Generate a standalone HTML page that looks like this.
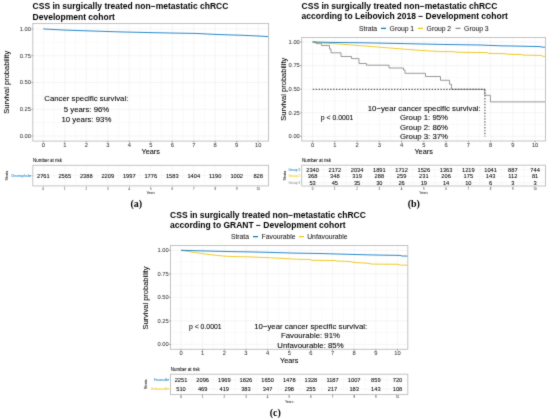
<!DOCTYPE html>
<html><head><meta charset="utf-8"><title>CSS chRCC</title>
<style>
html,body{margin:0;padding:0;background:#fff;}
body{width:550px;height:420px;overflow:hidden;font-family:"Liberation Sans",sans-serif;}
svg{display:block;}
#w{width:550px;height:420px;will-change:transform;}

</style></head><body><div id="w">
<svg width="550" height="420" viewBox="0 0 550 420">
<defs><filter id="bl" x="0" y="0" width="550" height="420" filterUnits="userSpaceOnUse" color-interpolation-filters="sRGB"><feConvolveMatrix order="3" kernelMatrix="0.02 0.08 0.02 0.08 0.6 0.08 0.02 0.08 0.02" divisor="1" edgeMode="duplicate"/></filter></defs>
<g filter="url(#bl)">
<rect x="0" y="0" width="550" height="420" fill="#fff"/>
<text x="32.60" y="9.30" font-size="8.5" text-anchor="start" font-weight="bold" fill="#000" font-family="Liberation Sans" >CSS in surgically treated non−metastatic chRCC</text>
<text x="32.60" y="19.60" font-size="8.5" text-anchor="start" font-weight="bold" fill="#000" font-family="Liberation Sans" >Development cohort</text>
<rect x="32.8" y="23.45" width="235.8" height="117.64999999999999" fill="#fff"/>
<line x1="54.04" y1="23.45" x2="54.04" y2="141.10" stroke="#f4f4f4" stroke-width="0.5" />
<line x1="75.53" y1="23.45" x2="75.53" y2="141.10" stroke="#f4f4f4" stroke-width="0.5" />
<line x1="97.02" y1="23.45" x2="97.02" y2="141.10" stroke="#f4f4f4" stroke-width="0.5" />
<line x1="118.51" y1="23.45" x2="118.51" y2="141.10" stroke="#f4f4f4" stroke-width="0.5" />
<line x1="140.00" y1="23.45" x2="140.00" y2="141.10" stroke="#f4f4f4" stroke-width="0.5" />
<line x1="161.50" y1="23.45" x2="161.50" y2="141.10" stroke="#f4f4f4" stroke-width="0.5" />
<line x1="182.99" y1="23.45" x2="182.99" y2="141.10" stroke="#f4f4f4" stroke-width="0.5" />
<line x1="204.47" y1="23.45" x2="204.47" y2="141.10" stroke="#f4f4f4" stroke-width="0.5" />
<line x1="225.96" y1="23.45" x2="225.96" y2="141.10" stroke="#f4f4f4" stroke-width="0.5" />
<line x1="247.45" y1="23.45" x2="247.45" y2="141.10" stroke="#f4f4f4" stroke-width="0.5" />
<line x1="32.80" y1="122.62" x2="268.60" y2="122.62" stroke="#f4f4f4" stroke-width="0.5" />
<line x1="32.80" y1="95.88" x2="268.60" y2="95.88" stroke="#f4f4f4" stroke-width="0.5" />
<line x1="32.80" y1="69.12" x2="268.60" y2="69.12" stroke="#f4f4f4" stroke-width="0.5" />
<line x1="32.80" y1="42.38" x2="268.60" y2="42.38" stroke="#f4f4f4" stroke-width="0.5" />
<line x1="43.30" y1="23.45" x2="43.30" y2="141.10" stroke="#eeeeee" stroke-width="0.6" />
<line x1="64.79" y1="23.45" x2="64.79" y2="141.10" stroke="#eeeeee" stroke-width="0.6" />
<line x1="86.28" y1="23.45" x2="86.28" y2="141.10" stroke="#eeeeee" stroke-width="0.6" />
<line x1="107.77" y1="23.45" x2="107.77" y2="141.10" stroke="#eeeeee" stroke-width="0.6" />
<line x1="129.26" y1="23.45" x2="129.26" y2="141.10" stroke="#eeeeee" stroke-width="0.6" />
<line x1="150.75" y1="23.45" x2="150.75" y2="141.10" stroke="#eeeeee" stroke-width="0.6" />
<line x1="172.24" y1="23.45" x2="172.24" y2="141.10" stroke="#eeeeee" stroke-width="0.6" />
<line x1="193.73" y1="23.45" x2="193.73" y2="141.10" stroke="#eeeeee" stroke-width="0.6" />
<line x1="215.22" y1="23.45" x2="215.22" y2="141.10" stroke="#eeeeee" stroke-width="0.6" />
<line x1="236.71" y1="23.45" x2="236.71" y2="141.10" stroke="#eeeeee" stroke-width="0.6" />
<line x1="258.20" y1="23.45" x2="258.20" y2="141.10" stroke="#eeeeee" stroke-width="0.6" />
<line x1="32.80" y1="136.00" x2="268.60" y2="136.00" stroke="#eeeeee" stroke-width="0.6" />
<line x1="32.80" y1="109.25" x2="268.60" y2="109.25" stroke="#eeeeee" stroke-width="0.6" />
<line x1="32.80" y1="82.50" x2="268.60" y2="82.50" stroke="#eeeeee" stroke-width="0.6" />
<line x1="32.80" y1="55.75" x2="268.60" y2="55.75" stroke="#eeeeee" stroke-width="0.6" />
<line x1="32.80" y1="29.00" x2="268.60" y2="29.00" stroke="#eeeeee" stroke-width="0.6" />
<path d="M43.30,28.90 L50.00,29.30 L65.00,30.10 L80.00,30.60 L95.00,31.10 L120.00,31.90 L150.00,32.60 L175.00,33.10 L195.00,33.40 L205.00,33.90 L215.00,34.40 L230.00,34.90 L245.00,35.40 L260.00,36.10 L268.60,36.70" fill="none" stroke="#0073C2" stroke-width="0.85" stroke-linejoin="miter" />
<text x="86.30" y="101.30" font-size="7.8" text-anchor="middle" font-weight="normal" fill="#000" font-family="Liberation Sans" stroke="#000" stroke-width="0.073" >Cancer specific survival:</text>
<text x="86.50" y="111.80" font-size="7.8" text-anchor="middle" font-weight="normal" fill="#000" font-family="Liberation Sans" stroke="#000" stroke-width="0.073" >5 years: 96%</text>
<text x="86.40" y="122.30" font-size="7.8" text-anchor="middle" font-weight="normal" fill="#000" font-family="Liberation Sans" stroke="#000" stroke-width="0.073" >10 years: 93%</text>
<rect x="32.8" y="23.45" width="235.8" height="117.64999999999999" fill="none" stroke="#bdbdbd" stroke-width="0.9"/>
<line x1="31.40" y1="136.00" x2="32.80" y2="136.00" stroke="#666666" stroke-width="0.6" />
<text x="30.90" y="137.90" font-size="5.75" text-anchor="end" font-weight="normal" fill="#383838" font-family="Liberation Sans" stroke="#383838" stroke-width="0.054" >0.00</text>
<line x1="31.40" y1="109.25" x2="32.80" y2="109.25" stroke="#666666" stroke-width="0.6" />
<text x="30.90" y="111.15" font-size="5.75" text-anchor="end" font-weight="normal" fill="#383838" font-family="Liberation Sans" stroke="#383838" stroke-width="0.054" >0.25</text>
<line x1="31.40" y1="82.50" x2="32.80" y2="82.50" stroke="#666666" stroke-width="0.6" />
<text x="30.90" y="84.40" font-size="5.75" text-anchor="end" font-weight="normal" fill="#383838" font-family="Liberation Sans" stroke="#383838" stroke-width="0.054" >0.50</text>
<line x1="31.40" y1="55.75" x2="32.80" y2="55.75" stroke="#666666" stroke-width="0.6" />
<text x="30.90" y="57.65" font-size="5.75" text-anchor="end" font-weight="normal" fill="#383838" font-family="Liberation Sans" stroke="#383838" stroke-width="0.054" >0.75</text>
<line x1="31.40" y1="29.00" x2="32.80" y2="29.00" stroke="#666666" stroke-width="0.6" />
<text x="30.90" y="30.90" font-size="5.75" text-anchor="end" font-weight="normal" fill="#383838" font-family="Liberation Sans" stroke="#383838" stroke-width="0.054" >1.00</text>
<line x1="43.30" y1="141.10" x2="43.30" y2="142.50" stroke="#666666" stroke-width="0.6" />
<text x="43.30" y="146.80" font-size="5.75" text-anchor="middle" font-weight="normal" fill="#383838" font-family="Liberation Sans" stroke="#383838" stroke-width="0.054" >0</text>
<line x1="64.79" y1="141.10" x2="64.79" y2="142.50" stroke="#666666" stroke-width="0.6" />
<text x="64.79" y="146.80" font-size="5.75" text-anchor="middle" font-weight="normal" fill="#383838" font-family="Liberation Sans" stroke="#383838" stroke-width="0.054" >1</text>
<line x1="86.28" y1="141.10" x2="86.28" y2="142.50" stroke="#666666" stroke-width="0.6" />
<text x="86.28" y="146.80" font-size="5.75" text-anchor="middle" font-weight="normal" fill="#383838" font-family="Liberation Sans" stroke="#383838" stroke-width="0.054" >2</text>
<line x1="107.77" y1="141.10" x2="107.77" y2="142.50" stroke="#666666" stroke-width="0.6" />
<text x="107.77" y="146.80" font-size="5.75" text-anchor="middle" font-weight="normal" fill="#383838" font-family="Liberation Sans" stroke="#383838" stroke-width="0.054" >3</text>
<line x1="129.26" y1="141.10" x2="129.26" y2="142.50" stroke="#666666" stroke-width="0.6" />
<text x="129.26" y="146.80" font-size="5.75" text-anchor="middle" font-weight="normal" fill="#383838" font-family="Liberation Sans" stroke="#383838" stroke-width="0.054" >4</text>
<line x1="150.75" y1="141.10" x2="150.75" y2="142.50" stroke="#666666" stroke-width="0.6" />
<text x="150.75" y="146.80" font-size="5.75" text-anchor="middle" font-weight="normal" fill="#383838" font-family="Liberation Sans" stroke="#383838" stroke-width="0.054" >5</text>
<line x1="172.24" y1="141.10" x2="172.24" y2="142.50" stroke="#666666" stroke-width="0.6" />
<text x="172.24" y="146.80" font-size="5.75" text-anchor="middle" font-weight="normal" fill="#383838" font-family="Liberation Sans" stroke="#383838" stroke-width="0.054" >6</text>
<line x1="193.73" y1="141.10" x2="193.73" y2="142.50" stroke="#666666" stroke-width="0.6" />
<text x="193.73" y="146.80" font-size="5.75" text-anchor="middle" font-weight="normal" fill="#383838" font-family="Liberation Sans" stroke="#383838" stroke-width="0.054" >7</text>
<line x1="215.22" y1="141.10" x2="215.22" y2="142.50" stroke="#666666" stroke-width="0.6" />
<text x="215.22" y="146.80" font-size="5.75" text-anchor="middle" font-weight="normal" fill="#383838" font-family="Liberation Sans" stroke="#383838" stroke-width="0.054" >8</text>
<line x1="236.71" y1="141.10" x2="236.71" y2="142.50" stroke="#666666" stroke-width="0.6" />
<text x="236.71" y="146.80" font-size="5.75" text-anchor="middle" font-weight="normal" fill="#383838" font-family="Liberation Sans" stroke="#383838" stroke-width="0.054" >9</text>
<line x1="258.20" y1="141.10" x2="258.20" y2="142.50" stroke="#666666" stroke-width="0.6" />
<text x="258.20" y="146.80" font-size="5.75" text-anchor="middle" font-weight="normal" fill="#383838" font-family="Liberation Sans" stroke="#383838" stroke-width="0.054" >10</text>
<text x="150.70" y="154.30" font-size="7.3" text-anchor="middle" font-weight="normal" fill="#000" font-family="Liberation Sans" stroke="#000" stroke-width="0.068" >Years</text>
<text x="0.00" y="0.00" font-size="7.5" text-anchor="middle" font-weight="normal" fill="#000" font-family="Liberation Sans" stroke="#000" stroke-width="0.070" transform="translate(9.00,82.27) rotate(-90)">Survival probability</text>
<text x="33.10" y="162.40" font-size="4.45" text-anchor="start" font-weight="normal" fill="#000" font-family="Liberation Sans" stroke="#000" stroke-width="0.042" >Number at risk</text>
<rect x="32.8" y="165.3" width="235.8" height="20.599999999999994" fill="#fff"/>
<line x1="43.30" y1="165.30" x2="43.30" y2="185.90" stroke="#eeeeee" stroke-width="0.5" />
<line x1="54.04" y1="165.30" x2="54.04" y2="185.90" stroke="#f4f4f4" stroke-width="0.5" />
<line x1="64.79" y1="165.30" x2="64.79" y2="185.90" stroke="#eeeeee" stroke-width="0.5" />
<line x1="75.53" y1="165.30" x2="75.53" y2="185.90" stroke="#f4f4f4" stroke-width="0.5" />
<line x1="86.28" y1="165.30" x2="86.28" y2="185.90" stroke="#eeeeee" stroke-width="0.5" />
<line x1="97.02" y1="165.30" x2="97.02" y2="185.90" stroke="#f4f4f4" stroke-width="0.5" />
<line x1="107.77" y1="165.30" x2="107.77" y2="185.90" stroke="#eeeeee" stroke-width="0.5" />
<line x1="118.51" y1="165.30" x2="118.51" y2="185.90" stroke="#f4f4f4" stroke-width="0.5" />
<line x1="129.26" y1="165.30" x2="129.26" y2="185.90" stroke="#eeeeee" stroke-width="0.5" />
<line x1="140.00" y1="165.30" x2="140.00" y2="185.90" stroke="#f4f4f4" stroke-width="0.5" />
<line x1="150.75" y1="165.30" x2="150.75" y2="185.90" stroke="#eeeeee" stroke-width="0.5" />
<line x1="161.50" y1="165.30" x2="161.50" y2="185.90" stroke="#f4f4f4" stroke-width="0.5" />
<line x1="172.24" y1="165.30" x2="172.24" y2="185.90" stroke="#eeeeee" stroke-width="0.5" />
<line x1="182.99" y1="165.30" x2="182.99" y2="185.90" stroke="#f4f4f4" stroke-width="0.5" />
<line x1="193.73" y1="165.30" x2="193.73" y2="185.90" stroke="#eeeeee" stroke-width="0.5" />
<line x1="204.47" y1="165.30" x2="204.47" y2="185.90" stroke="#f4f4f4" stroke-width="0.5" />
<line x1="215.22" y1="165.30" x2="215.22" y2="185.90" stroke="#eeeeee" stroke-width="0.5" />
<line x1="225.96" y1="165.30" x2="225.96" y2="185.90" stroke="#f4f4f4" stroke-width="0.5" />
<line x1="236.71" y1="165.30" x2="236.71" y2="185.90" stroke="#eeeeee" stroke-width="0.5" />
<line x1="247.45" y1="165.30" x2="247.45" y2="185.90" stroke="#f4f4f4" stroke-width="0.5" />
<line x1="258.20" y1="165.30" x2="258.20" y2="185.90" stroke="#eeeeee" stroke-width="0.5" />
<line x1="32.80" y1="175.60" x2="268.60" y2="175.60" stroke="#eeeeee" stroke-width="0.5" />
<text x="43.30" y="177.55" font-size="5.7" text-anchor="middle" font-weight="normal" fill="#000" font-family="Liberation Sans" stroke="#000" stroke-width="0.053" >2761</text>
<text x="64.79" y="177.55" font-size="5.7" text-anchor="middle" font-weight="normal" fill="#000" font-family="Liberation Sans" stroke="#000" stroke-width="0.053" >2565</text>
<text x="86.28" y="177.55" font-size="5.7" text-anchor="middle" font-weight="normal" fill="#000" font-family="Liberation Sans" stroke="#000" stroke-width="0.053" >2388</text>
<text x="107.77" y="177.55" font-size="5.7" text-anchor="middle" font-weight="normal" fill="#000" font-family="Liberation Sans" stroke="#000" stroke-width="0.053" >2209</text>
<text x="129.26" y="177.55" font-size="5.7" text-anchor="middle" font-weight="normal" fill="#000" font-family="Liberation Sans" stroke="#000" stroke-width="0.053" >1997</text>
<text x="150.75" y="177.55" font-size="5.7" text-anchor="middle" font-weight="normal" fill="#000" font-family="Liberation Sans" stroke="#000" stroke-width="0.053" >1776</text>
<text x="172.24" y="177.55" font-size="5.7" text-anchor="middle" font-weight="normal" fill="#000" font-family="Liberation Sans" stroke="#000" stroke-width="0.053" >1583</text>
<text x="193.73" y="177.55" font-size="5.7" text-anchor="middle" font-weight="normal" fill="#000" font-family="Liberation Sans" stroke="#000" stroke-width="0.053" >1404</text>
<text x="215.22" y="177.55" font-size="5.7" text-anchor="middle" font-weight="normal" fill="#000" font-family="Liberation Sans" stroke="#000" stroke-width="0.053" >1190</text>
<text x="236.71" y="177.55" font-size="5.7" text-anchor="middle" font-weight="normal" fill="#000" font-family="Liberation Sans" stroke="#000" stroke-width="0.053" >1002</text>
<text x="258.20" y="177.55" font-size="5.7" text-anchor="middle" font-weight="normal" fill="#000" font-family="Liberation Sans" stroke="#000" stroke-width="0.053" >828</text>
<line x1="31.80" y1="175.60" x2="32.80" y2="175.60" stroke="#bdbdbd" stroke-width="0.5" />
<text x="31.20" y="176.70" font-size="3.2" text-anchor="end" font-weight="normal" fill="#0073C2" font-family="Liberation Sans" stroke="#0073C2" stroke-width="0.030" >Chromophobe</text>
<rect x="32.8" y="165.3" width="235.8" height="20.599999999999994" fill="none" stroke="#bdbdbd" stroke-width="0.9"/>
<line x1="43.30" y1="185.90" x2="43.30" y2="186.90" stroke="#bdbdbd" stroke-width="0.5" />
<text x="43.30" y="189.70" font-size="2.9" text-anchor="middle" font-weight="normal" fill="#444" font-family="Liberation Sans" stroke="#444" stroke-width="0.027" >0</text>
<line x1="64.79" y1="185.90" x2="64.79" y2="186.90" stroke="#bdbdbd" stroke-width="0.5" />
<text x="64.79" y="189.70" font-size="2.9" text-anchor="middle" font-weight="normal" fill="#444" font-family="Liberation Sans" stroke="#444" stroke-width="0.027" >1</text>
<line x1="86.28" y1="185.90" x2="86.28" y2="186.90" stroke="#bdbdbd" stroke-width="0.5" />
<text x="86.28" y="189.70" font-size="2.9" text-anchor="middle" font-weight="normal" fill="#444" font-family="Liberation Sans" stroke="#444" stroke-width="0.027" >2</text>
<line x1="107.77" y1="185.90" x2="107.77" y2="186.90" stroke="#bdbdbd" stroke-width="0.5" />
<text x="107.77" y="189.70" font-size="2.9" text-anchor="middle" font-weight="normal" fill="#444" font-family="Liberation Sans" stroke="#444" stroke-width="0.027" >3</text>
<line x1="129.26" y1="185.90" x2="129.26" y2="186.90" stroke="#bdbdbd" stroke-width="0.5" />
<text x="129.26" y="189.70" font-size="2.9" text-anchor="middle" font-weight="normal" fill="#444" font-family="Liberation Sans" stroke="#444" stroke-width="0.027" >4</text>
<line x1="150.75" y1="185.90" x2="150.75" y2="186.90" stroke="#bdbdbd" stroke-width="0.5" />
<text x="150.75" y="189.70" font-size="2.9" text-anchor="middle" font-weight="normal" fill="#444" font-family="Liberation Sans" stroke="#444" stroke-width="0.027" >5</text>
<line x1="172.24" y1="185.90" x2="172.24" y2="186.90" stroke="#bdbdbd" stroke-width="0.5" />
<text x="172.24" y="189.70" font-size="2.9" text-anchor="middle" font-weight="normal" fill="#444" font-family="Liberation Sans" stroke="#444" stroke-width="0.027" >6</text>
<line x1="193.73" y1="185.90" x2="193.73" y2="186.90" stroke="#bdbdbd" stroke-width="0.5" />
<text x="193.73" y="189.70" font-size="2.9" text-anchor="middle" font-weight="normal" fill="#444" font-family="Liberation Sans" stroke="#444" stroke-width="0.027" >7</text>
<line x1="215.22" y1="185.90" x2="215.22" y2="186.90" stroke="#bdbdbd" stroke-width="0.5" />
<text x="215.22" y="189.70" font-size="2.9" text-anchor="middle" font-weight="normal" fill="#444" font-family="Liberation Sans" stroke="#444" stroke-width="0.027" >8</text>
<line x1="236.71" y1="185.90" x2="236.71" y2="186.90" stroke="#bdbdbd" stroke-width="0.5" />
<text x="236.71" y="189.70" font-size="2.9" text-anchor="middle" font-weight="normal" fill="#444" font-family="Liberation Sans" stroke="#444" stroke-width="0.027" >9</text>
<line x1="258.20" y1="185.90" x2="258.20" y2="186.90" stroke="#bdbdbd" stroke-width="0.5" />
<text x="258.20" y="189.70" font-size="2.9" text-anchor="middle" font-weight="normal" fill="#444" font-family="Liberation Sans" stroke="#444" stroke-width="0.027" >10</text>
<text x="150.70" y="193.80" font-size="3.4" text-anchor="middle" font-weight="normal" fill="#333" font-family="Liberation Sans" stroke="#333" stroke-width="0.032" >Years</text>
<text x="0.00" y="0.00" font-size="3.7" text-anchor="middle" font-weight="normal" fill="#000" font-family="Liberation Sans" stroke="#000" stroke-width="0.035" transform="translate(8.00,175.60) rotate(-90)">Strata</text>
<text x="136.30" y="206.70" font-size="10" text-anchor="middle" font-weight="bold" fill="#000" font-family="Liberation Serif" >(a)</text>
<text x="301.60" y="9.30" font-size="8.5" text-anchor="start" font-weight="bold" fill="#000" font-family="Liberation Sans" >CSS in surgically treated non−metastatic chRCC</text>
<text x="301.60" y="19.40" font-size="8.5" text-anchor="start" font-weight="bold" fill="#000" font-family="Liberation Sans" >according to Leibovich 2018 − Development cohort</text>
<text x="359.00" y="30.80" font-size="6.8" text-anchor="start" font-weight="normal" fill="#222" font-family="Liberation Sans" stroke="#222" stroke-width="0.063" >Strata</text>
<line x1="381.00" y1="28.35" x2="386.00" y2="28.35" stroke="#0073C2" stroke-width="1.2" />
<text x="389.60" y="30.80" font-size="6.8" text-anchor="start" font-weight="normal" fill="#222" font-family="Liberation Sans" stroke="#222" stroke-width="0.063" >Group 1</text>
<line x1="418.00" y1="28.35" x2="423.00" y2="28.35" stroke="#EFC000" stroke-width="1.2" />
<text x="426.60" y="30.80" font-size="6.8" text-anchor="start" font-weight="normal" fill="#222" font-family="Liberation Sans" stroke="#222" stroke-width="0.063" >Group 2</text>
<line x1="455.50" y1="28.35" x2="460.50" y2="28.35" stroke="#868686" stroke-width="1.2" />
<text x="464.10" y="30.80" font-size="6.8" text-anchor="start" font-weight="normal" fill="#222" font-family="Liberation Sans" stroke="#222" stroke-width="0.063" >Group 3</text>
<rect x="301.7" y="37.5" width="243.8" height="103.5" fill="#fff"/>
<line x1="323.73" y1="37.50" x2="323.73" y2="141.00" stroke="#f4f4f4" stroke-width="0.5" />
<line x1="345.98" y1="37.50" x2="345.98" y2="141.00" stroke="#f4f4f4" stroke-width="0.5" />
<line x1="368.23" y1="37.50" x2="368.23" y2="141.00" stroke="#f4f4f4" stroke-width="0.5" />
<line x1="390.48" y1="37.50" x2="390.48" y2="141.00" stroke="#f4f4f4" stroke-width="0.5" />
<line x1="412.73" y1="37.50" x2="412.73" y2="141.00" stroke="#f4f4f4" stroke-width="0.5" />
<line x1="434.98" y1="37.50" x2="434.98" y2="141.00" stroke="#f4f4f4" stroke-width="0.5" />
<line x1="457.23" y1="37.50" x2="457.23" y2="141.00" stroke="#f4f4f4" stroke-width="0.5" />
<line x1="479.48" y1="37.50" x2="479.48" y2="141.00" stroke="#f4f4f4" stroke-width="0.5" />
<line x1="501.73" y1="37.50" x2="501.73" y2="141.00" stroke="#f4f4f4" stroke-width="0.5" />
<line x1="523.98" y1="37.50" x2="523.98" y2="141.00" stroke="#f4f4f4" stroke-width="0.5" />
<line x1="301.70" y1="124.51" x2="545.50" y2="124.51" stroke="#f4f4f4" stroke-width="0.5" />
<line x1="301.70" y1="100.94" x2="545.50" y2="100.94" stroke="#f4f4f4" stroke-width="0.5" />
<line x1="301.70" y1="77.36" x2="545.50" y2="77.36" stroke="#f4f4f4" stroke-width="0.5" />
<line x1="301.70" y1="53.79" x2="545.50" y2="53.79" stroke="#f4f4f4" stroke-width="0.5" />
<line x1="312.60" y1="37.50" x2="312.60" y2="141.00" stroke="#eeeeee" stroke-width="0.6" />
<line x1="334.85" y1="37.50" x2="334.85" y2="141.00" stroke="#eeeeee" stroke-width="0.6" />
<line x1="357.10" y1="37.50" x2="357.10" y2="141.00" stroke="#eeeeee" stroke-width="0.6" />
<line x1="379.35" y1="37.50" x2="379.35" y2="141.00" stroke="#eeeeee" stroke-width="0.6" />
<line x1="401.60" y1="37.50" x2="401.60" y2="141.00" stroke="#eeeeee" stroke-width="0.6" />
<line x1="423.85" y1="37.50" x2="423.85" y2="141.00" stroke="#eeeeee" stroke-width="0.6" />
<line x1="446.10" y1="37.50" x2="446.10" y2="141.00" stroke="#eeeeee" stroke-width="0.6" />
<line x1="468.35" y1="37.50" x2="468.35" y2="141.00" stroke="#eeeeee" stroke-width="0.6" />
<line x1="490.60" y1="37.50" x2="490.60" y2="141.00" stroke="#eeeeee" stroke-width="0.6" />
<line x1="512.85" y1="37.50" x2="512.85" y2="141.00" stroke="#eeeeee" stroke-width="0.6" />
<line x1="535.10" y1="37.50" x2="535.10" y2="141.00" stroke="#eeeeee" stroke-width="0.6" />
<line x1="301.70" y1="136.30" x2="545.50" y2="136.30" stroke="#eeeeee" stroke-width="0.6" />
<line x1="301.70" y1="112.73" x2="545.50" y2="112.73" stroke="#eeeeee" stroke-width="0.6" />
<line x1="301.70" y1="89.15" x2="545.50" y2="89.15" stroke="#eeeeee" stroke-width="0.6" />
<line x1="301.70" y1="65.58" x2="545.50" y2="65.58" stroke="#eeeeee" stroke-width="0.6" />
<line x1="301.70" y1="42.00" x2="545.50" y2="42.00" stroke="#eeeeee" stroke-width="0.6" />
<path d="M312.60,42.00 L316.00,42.00 L316.00,43.60 L321.50,43.60 L321.50,45.50 L329.50,45.50 L329.50,49.00 L331.00,49.00 L331.00,52.80 L341.00,52.80 L341.00,56.50 L351.50,56.50 L351.50,58.60 L359.00,58.60 L359.00,63.50 L366.50,63.50 L366.50,65.20 L389.00,65.20 L389.00,68.00 L403.50,68.00 L403.50,70.00 L405.00,70.00 L405.00,73.30 L425.50,73.30 L425.50,76.50 L440.50,76.50 L440.50,80.30 L449.50,80.30 L449.50,84.30 L451.50,84.30 L451.50,89.30 L484.80,89.30 L484.80,95.30 L490.40,95.30 L490.40,101.90 L545.50,101.90" fill="none" stroke="#868686" stroke-width="0.85" stroke-linejoin="miter" />
<path d="M312.60,42.00 L320.00,43.00 L335.00,43.70 L345.00,44.50 L370.00,46.40 L390.00,48.00 L410.00,49.60 L430.00,51.00 L440.00,51.50 L454.00,51.70 L456.00,52.20 L487.00,52.60 L489.00,53.40 L506.00,53.70 L508.00,54.30 L521.00,54.50 L523.00,55.10 L541.00,55.50 L543.00,56.30 L545.50,56.40" fill="none" stroke="#EFC000" stroke-width="0.85" stroke-linejoin="miter" />
<path d="M312.60,42.00 L330.00,42.40 L363.00,42.80 L400.00,43.50 L440.00,44.40 L480.00,45.00 L500.00,45.80 L520.00,46.20 L540.00,46.60 L542.00,47.10 L545.50,47.20" fill="none" stroke="#0073C2" stroke-width="0.85" stroke-linejoin="miter" />
<line x1="312.80" y1="89.35" x2="484.90" y2="89.35" stroke="#555" stroke-width="1.1" stroke-dasharray="1.4 1.5"/>
<line x1="484.90" y1="89.35" x2="484.90" y2="136.40" stroke="#555" stroke-width="1.1" stroke-dasharray="1.4 1.5"/>
<text x="337.10" y="120.10" font-size="6.85" text-anchor="middle" font-weight="normal" fill="#000" font-family="Liberation Sans" stroke="#000" stroke-width="0.064" >p &lt; 0.0001</text>
<text x="424.20" y="111.00" font-size="7.8" text-anchor="middle" font-weight="normal" fill="#000" font-family="Liberation Sans" stroke="#000" stroke-width="0.073" >10−year cancer specific survival:</text>
<text x="424.00" y="120.30" font-size="7.8" text-anchor="middle" font-weight="normal" fill="#000" font-family="Liberation Sans" stroke="#000" stroke-width="0.073" >Group 1: 95%</text>
<text x="424.00" y="129.60" font-size="7.8" text-anchor="middle" font-weight="normal" fill="#000" font-family="Liberation Sans" stroke="#000" stroke-width="0.073" >Group 2: 86%</text>
<text x="424.00" y="138.90" font-size="7.8" text-anchor="middle" font-weight="normal" fill="#000" font-family="Liberation Sans" stroke="#000" stroke-width="0.073" >Group 3: 37%</text>
<rect x="301.7" y="37.5" width="243.8" height="103.5" fill="none" stroke="#bdbdbd" stroke-width="0.9"/>
<line x1="300.30" y1="136.30" x2="301.70" y2="136.30" stroke="#666666" stroke-width="0.6" />
<text x="299.80" y="138.20" font-size="5.75" text-anchor="end" font-weight="normal" fill="#383838" font-family="Liberation Sans" stroke="#383838" stroke-width="0.054" >0.00</text>
<line x1="300.30" y1="112.73" x2="301.70" y2="112.73" stroke="#666666" stroke-width="0.6" />
<text x="299.80" y="114.63" font-size="5.75" text-anchor="end" font-weight="normal" fill="#383838" font-family="Liberation Sans" stroke="#383838" stroke-width="0.054" >0.25</text>
<line x1="300.30" y1="89.15" x2="301.70" y2="89.15" stroke="#666666" stroke-width="0.6" />
<text x="299.80" y="91.05" font-size="5.75" text-anchor="end" font-weight="normal" fill="#383838" font-family="Liberation Sans" stroke="#383838" stroke-width="0.054" >0.50</text>
<line x1="300.30" y1="65.58" x2="301.70" y2="65.58" stroke="#666666" stroke-width="0.6" />
<text x="299.80" y="67.48" font-size="5.75" text-anchor="end" font-weight="normal" fill="#383838" font-family="Liberation Sans" stroke="#383838" stroke-width="0.054" >0.75</text>
<line x1="300.30" y1="42.00" x2="301.70" y2="42.00" stroke="#666666" stroke-width="0.6" />
<text x="299.80" y="43.90" font-size="5.75" text-anchor="end" font-weight="normal" fill="#383838" font-family="Liberation Sans" stroke="#383838" stroke-width="0.054" >1.00</text>
<line x1="312.60" y1="141.00" x2="312.60" y2="142.40" stroke="#666666" stroke-width="0.6" />
<text x="312.60" y="146.70" font-size="5.75" text-anchor="middle" font-weight="normal" fill="#383838" font-family="Liberation Sans" stroke="#383838" stroke-width="0.054" >0</text>
<line x1="334.85" y1="141.00" x2="334.85" y2="142.40" stroke="#666666" stroke-width="0.6" />
<text x="334.85" y="146.70" font-size="5.75" text-anchor="middle" font-weight="normal" fill="#383838" font-family="Liberation Sans" stroke="#383838" stroke-width="0.054" >1</text>
<line x1="357.10" y1="141.00" x2="357.10" y2="142.40" stroke="#666666" stroke-width="0.6" />
<text x="357.10" y="146.70" font-size="5.75" text-anchor="middle" font-weight="normal" fill="#383838" font-family="Liberation Sans" stroke="#383838" stroke-width="0.054" >2</text>
<line x1="379.35" y1="141.00" x2="379.35" y2="142.40" stroke="#666666" stroke-width="0.6" />
<text x="379.35" y="146.70" font-size="5.75" text-anchor="middle" font-weight="normal" fill="#383838" font-family="Liberation Sans" stroke="#383838" stroke-width="0.054" >3</text>
<line x1="401.60" y1="141.00" x2="401.60" y2="142.40" stroke="#666666" stroke-width="0.6" />
<text x="401.60" y="146.70" font-size="5.75" text-anchor="middle" font-weight="normal" fill="#383838" font-family="Liberation Sans" stroke="#383838" stroke-width="0.054" >4</text>
<line x1="423.85" y1="141.00" x2="423.85" y2="142.40" stroke="#666666" stroke-width="0.6" />
<text x="423.85" y="146.70" font-size="5.75" text-anchor="middle" font-weight="normal" fill="#383838" font-family="Liberation Sans" stroke="#383838" stroke-width="0.054" >5</text>
<line x1="446.10" y1="141.00" x2="446.10" y2="142.40" stroke="#666666" stroke-width="0.6" />
<text x="446.10" y="146.70" font-size="5.75" text-anchor="middle" font-weight="normal" fill="#383838" font-family="Liberation Sans" stroke="#383838" stroke-width="0.054" >6</text>
<line x1="468.35" y1="141.00" x2="468.35" y2="142.40" stroke="#666666" stroke-width="0.6" />
<text x="468.35" y="146.70" font-size="5.75" text-anchor="middle" font-weight="normal" fill="#383838" font-family="Liberation Sans" stroke="#383838" stroke-width="0.054" >7</text>
<line x1="490.60" y1="141.00" x2="490.60" y2="142.40" stroke="#666666" stroke-width="0.6" />
<text x="490.60" y="146.70" font-size="5.75" text-anchor="middle" font-weight="normal" fill="#383838" font-family="Liberation Sans" stroke="#383838" stroke-width="0.054" >8</text>
<line x1="512.85" y1="141.00" x2="512.85" y2="142.40" stroke="#666666" stroke-width="0.6" />
<text x="512.85" y="146.70" font-size="5.75" text-anchor="middle" font-weight="normal" fill="#383838" font-family="Liberation Sans" stroke="#383838" stroke-width="0.054" >9</text>
<line x1="535.10" y1="141.00" x2="535.10" y2="142.40" stroke="#666666" stroke-width="0.6" />
<text x="535.10" y="146.70" font-size="5.75" text-anchor="middle" font-weight="normal" fill="#383838" font-family="Liberation Sans" stroke="#383838" stroke-width="0.054" >10</text>
<text x="423.60" y="154.30" font-size="7.3" text-anchor="middle" font-weight="normal" fill="#000" font-family="Liberation Sans" stroke="#000" stroke-width="0.068" >Years</text>
<text x="0.00" y="0.00" font-size="7.5" text-anchor="middle" font-weight="normal" fill="#000" font-family="Liberation Sans" stroke="#000" stroke-width="0.070" transform="translate(286.20,89.25) rotate(-90)">Survival probability</text>
<text x="302.00" y="162.30" font-size="4.45" text-anchor="start" font-weight="normal" fill="#000" font-family="Liberation Sans" stroke="#000" stroke-width="0.042" >Number at risk</text>
<rect x="301.7" y="165.2" width="243.8" height="20.80000000000001" fill="#fff"/>
<line x1="312.60" y1="165.20" x2="312.60" y2="186.00" stroke="#eeeeee" stroke-width="0.5" />
<line x1="323.73" y1="165.20" x2="323.73" y2="186.00" stroke="#f4f4f4" stroke-width="0.5" />
<line x1="334.85" y1="165.20" x2="334.85" y2="186.00" stroke="#eeeeee" stroke-width="0.5" />
<line x1="345.98" y1="165.20" x2="345.98" y2="186.00" stroke="#f4f4f4" stroke-width="0.5" />
<line x1="357.10" y1="165.20" x2="357.10" y2="186.00" stroke="#eeeeee" stroke-width="0.5" />
<line x1="368.23" y1="165.20" x2="368.23" y2="186.00" stroke="#f4f4f4" stroke-width="0.5" />
<line x1="379.35" y1="165.20" x2="379.35" y2="186.00" stroke="#eeeeee" stroke-width="0.5" />
<line x1="390.48" y1="165.20" x2="390.48" y2="186.00" stroke="#f4f4f4" stroke-width="0.5" />
<line x1="401.60" y1="165.20" x2="401.60" y2="186.00" stroke="#eeeeee" stroke-width="0.5" />
<line x1="412.73" y1="165.20" x2="412.73" y2="186.00" stroke="#f4f4f4" stroke-width="0.5" />
<line x1="423.85" y1="165.20" x2="423.85" y2="186.00" stroke="#eeeeee" stroke-width="0.5" />
<line x1="434.98" y1="165.20" x2="434.98" y2="186.00" stroke="#f4f4f4" stroke-width="0.5" />
<line x1="446.10" y1="165.20" x2="446.10" y2="186.00" stroke="#eeeeee" stroke-width="0.5" />
<line x1="457.23" y1="165.20" x2="457.23" y2="186.00" stroke="#f4f4f4" stroke-width="0.5" />
<line x1="468.35" y1="165.20" x2="468.35" y2="186.00" stroke="#eeeeee" stroke-width="0.5" />
<line x1="479.48" y1="165.20" x2="479.48" y2="186.00" stroke="#f4f4f4" stroke-width="0.5" />
<line x1="490.60" y1="165.20" x2="490.60" y2="186.00" stroke="#eeeeee" stroke-width="0.5" />
<line x1="501.73" y1="165.20" x2="501.73" y2="186.00" stroke="#f4f4f4" stroke-width="0.5" />
<line x1="512.85" y1="165.20" x2="512.85" y2="186.00" stroke="#eeeeee" stroke-width="0.5" />
<line x1="523.98" y1="165.20" x2="523.98" y2="186.00" stroke="#f4f4f4" stroke-width="0.5" />
<line x1="535.10" y1="165.20" x2="535.10" y2="186.00" stroke="#eeeeee" stroke-width="0.5" />
<line x1="301.70" y1="169.80" x2="545.50" y2="169.80" stroke="#eeeeee" stroke-width="0.5" />
<line x1="301.70" y1="176.30" x2="545.50" y2="176.30" stroke="#eeeeee" stroke-width="0.5" />
<line x1="301.70" y1="182.80" x2="545.50" y2="182.80" stroke="#eeeeee" stroke-width="0.5" />
<text x="312.60" y="171.75" font-size="5.7" text-anchor="middle" font-weight="normal" fill="#000" font-family="Liberation Sans" stroke="#000" stroke-width="0.053" >2340</text>
<text x="334.85" y="171.75" font-size="5.7" text-anchor="middle" font-weight="normal" fill="#000" font-family="Liberation Sans" stroke="#000" stroke-width="0.053" >2172</text>
<text x="357.10" y="171.75" font-size="5.7" text-anchor="middle" font-weight="normal" fill="#000" font-family="Liberation Sans" stroke="#000" stroke-width="0.053" >2034</text>
<text x="379.35" y="171.75" font-size="5.7" text-anchor="middle" font-weight="normal" fill="#000" font-family="Liberation Sans" stroke="#000" stroke-width="0.053" >1891</text>
<text x="401.60" y="171.75" font-size="5.7" text-anchor="middle" font-weight="normal" fill="#000" font-family="Liberation Sans" stroke="#000" stroke-width="0.053" >1712</text>
<text x="423.85" y="171.75" font-size="5.7" text-anchor="middle" font-weight="normal" fill="#000" font-family="Liberation Sans" stroke="#000" stroke-width="0.053" >1526</text>
<text x="446.10" y="171.75" font-size="5.7" text-anchor="middle" font-weight="normal" fill="#000" font-family="Liberation Sans" stroke="#000" stroke-width="0.053" >1363</text>
<text x="468.35" y="171.75" font-size="5.7" text-anchor="middle" font-weight="normal" fill="#000" font-family="Liberation Sans" stroke="#000" stroke-width="0.053" >1219</text>
<text x="490.60" y="171.75" font-size="5.7" text-anchor="middle" font-weight="normal" fill="#000" font-family="Liberation Sans" stroke="#000" stroke-width="0.053" >1041</text>
<text x="512.85" y="171.75" font-size="5.7" text-anchor="middle" font-weight="normal" fill="#000" font-family="Liberation Sans" stroke="#000" stroke-width="0.053" >887</text>
<text x="535.10" y="171.75" font-size="5.7" text-anchor="middle" font-weight="normal" fill="#000" font-family="Liberation Sans" stroke="#000" stroke-width="0.053" >744</text>
<line x1="300.70" y1="169.80" x2="301.70" y2="169.80" stroke="#bdbdbd" stroke-width="0.5" />
<text x="300.10" y="170.90" font-size="3.2" text-anchor="end" font-weight="normal" fill="#0073C2" font-family="Liberation Sans" stroke="#0073C2" stroke-width="0.030" >Group 1</text>
<text x="312.60" y="178.25" font-size="5.7" text-anchor="middle" font-weight="normal" fill="#000" font-family="Liberation Sans" stroke="#000" stroke-width="0.053" >368</text>
<text x="334.85" y="178.25" font-size="5.7" text-anchor="middle" font-weight="normal" fill="#000" font-family="Liberation Sans" stroke="#000" stroke-width="0.053" >348</text>
<text x="357.10" y="178.25" font-size="5.7" text-anchor="middle" font-weight="normal" fill="#000" font-family="Liberation Sans" stroke="#000" stroke-width="0.053" >319</text>
<text x="379.35" y="178.25" font-size="5.7" text-anchor="middle" font-weight="normal" fill="#000" font-family="Liberation Sans" stroke="#000" stroke-width="0.053" >288</text>
<text x="401.60" y="178.25" font-size="5.7" text-anchor="middle" font-weight="normal" fill="#000" font-family="Liberation Sans" stroke="#000" stroke-width="0.053" >259</text>
<text x="423.85" y="178.25" font-size="5.7" text-anchor="middle" font-weight="normal" fill="#000" font-family="Liberation Sans" stroke="#000" stroke-width="0.053" >231</text>
<text x="446.10" y="178.25" font-size="5.7" text-anchor="middle" font-weight="normal" fill="#000" font-family="Liberation Sans" stroke="#000" stroke-width="0.053" >206</text>
<text x="468.35" y="178.25" font-size="5.7" text-anchor="middle" font-weight="normal" fill="#000" font-family="Liberation Sans" stroke="#000" stroke-width="0.053" >175</text>
<text x="490.60" y="178.25" font-size="5.7" text-anchor="middle" font-weight="normal" fill="#000" font-family="Liberation Sans" stroke="#000" stroke-width="0.053" >143</text>
<text x="512.85" y="178.25" font-size="5.7" text-anchor="middle" font-weight="normal" fill="#000" font-family="Liberation Sans" stroke="#000" stroke-width="0.053" >112</text>
<text x="535.10" y="178.25" font-size="5.7" text-anchor="middle" font-weight="normal" fill="#000" font-family="Liberation Sans" stroke="#000" stroke-width="0.053" >81</text>
<line x1="300.70" y1="176.30" x2="301.70" y2="176.30" stroke="#bdbdbd" stroke-width="0.5" />
<text x="300.10" y="177.40" font-size="3.2" text-anchor="end" font-weight="normal" fill="#EFC000" font-family="Liberation Sans" stroke="#EFC000" stroke-width="0.030" >Group 2</text>
<text x="312.60" y="184.75" font-size="5.7" text-anchor="middle" font-weight="normal" fill="#000" font-family="Liberation Sans" stroke="#000" stroke-width="0.053" >53</text>
<text x="334.85" y="184.75" font-size="5.7" text-anchor="middle" font-weight="normal" fill="#000" font-family="Liberation Sans" stroke="#000" stroke-width="0.053" >45</text>
<text x="357.10" y="184.75" font-size="5.7" text-anchor="middle" font-weight="normal" fill="#000" font-family="Liberation Sans" stroke="#000" stroke-width="0.053" >35</text>
<text x="379.35" y="184.75" font-size="5.7" text-anchor="middle" font-weight="normal" fill="#000" font-family="Liberation Sans" stroke="#000" stroke-width="0.053" >30</text>
<text x="401.60" y="184.75" font-size="5.7" text-anchor="middle" font-weight="normal" fill="#000" font-family="Liberation Sans" stroke="#000" stroke-width="0.053" >26</text>
<text x="423.85" y="184.75" font-size="5.7" text-anchor="middle" font-weight="normal" fill="#000" font-family="Liberation Sans" stroke="#000" stroke-width="0.053" >19</text>
<text x="446.10" y="184.75" font-size="5.7" text-anchor="middle" font-weight="normal" fill="#000" font-family="Liberation Sans" stroke="#000" stroke-width="0.053" >14</text>
<text x="468.35" y="184.75" font-size="5.7" text-anchor="middle" font-weight="normal" fill="#000" font-family="Liberation Sans" stroke="#000" stroke-width="0.053" >10</text>
<text x="490.60" y="184.75" font-size="5.7" text-anchor="middle" font-weight="normal" fill="#000" font-family="Liberation Sans" stroke="#000" stroke-width="0.053" >6</text>
<text x="512.85" y="184.75" font-size="5.7" text-anchor="middle" font-weight="normal" fill="#000" font-family="Liberation Sans" stroke="#000" stroke-width="0.053" >3</text>
<text x="535.10" y="184.75" font-size="5.7" text-anchor="middle" font-weight="normal" fill="#000" font-family="Liberation Sans" stroke="#000" stroke-width="0.053" >3</text>
<line x1="300.70" y1="182.80" x2="301.70" y2="182.80" stroke="#bdbdbd" stroke-width="0.5" />
<text x="300.10" y="183.90" font-size="3.2" text-anchor="end" font-weight="normal" fill="#868686" font-family="Liberation Sans" stroke="#868686" stroke-width="0.030" >Group 3</text>
<rect x="301.7" y="165.2" width="243.8" height="20.80000000000001" fill="none" stroke="#bdbdbd" stroke-width="0.9"/>
<line x1="312.60" y1="186.00" x2="312.60" y2="187.00" stroke="#bdbdbd" stroke-width="0.5" />
<text x="312.60" y="189.80" font-size="2.9" text-anchor="middle" font-weight="normal" fill="#444" font-family="Liberation Sans" stroke="#444" stroke-width="0.027" >0</text>
<line x1="334.85" y1="186.00" x2="334.85" y2="187.00" stroke="#bdbdbd" stroke-width="0.5" />
<text x="334.85" y="189.80" font-size="2.9" text-anchor="middle" font-weight="normal" fill="#444" font-family="Liberation Sans" stroke="#444" stroke-width="0.027" >1</text>
<line x1="357.10" y1="186.00" x2="357.10" y2="187.00" stroke="#bdbdbd" stroke-width="0.5" />
<text x="357.10" y="189.80" font-size="2.9" text-anchor="middle" font-weight="normal" fill="#444" font-family="Liberation Sans" stroke="#444" stroke-width="0.027" >2</text>
<line x1="379.35" y1="186.00" x2="379.35" y2="187.00" stroke="#bdbdbd" stroke-width="0.5" />
<text x="379.35" y="189.80" font-size="2.9" text-anchor="middle" font-weight="normal" fill="#444" font-family="Liberation Sans" stroke="#444" stroke-width="0.027" >3</text>
<line x1="401.60" y1="186.00" x2="401.60" y2="187.00" stroke="#bdbdbd" stroke-width="0.5" />
<text x="401.60" y="189.80" font-size="2.9" text-anchor="middle" font-weight="normal" fill="#444" font-family="Liberation Sans" stroke="#444" stroke-width="0.027" >4</text>
<line x1="423.85" y1="186.00" x2="423.85" y2="187.00" stroke="#bdbdbd" stroke-width="0.5" />
<text x="423.85" y="189.80" font-size="2.9" text-anchor="middle" font-weight="normal" fill="#444" font-family="Liberation Sans" stroke="#444" stroke-width="0.027" >5</text>
<line x1="446.10" y1="186.00" x2="446.10" y2="187.00" stroke="#bdbdbd" stroke-width="0.5" />
<text x="446.10" y="189.80" font-size="2.9" text-anchor="middle" font-weight="normal" fill="#444" font-family="Liberation Sans" stroke="#444" stroke-width="0.027" >6</text>
<line x1="468.35" y1="186.00" x2="468.35" y2="187.00" stroke="#bdbdbd" stroke-width="0.5" />
<text x="468.35" y="189.80" font-size="2.9" text-anchor="middle" font-weight="normal" fill="#444" font-family="Liberation Sans" stroke="#444" stroke-width="0.027" >7</text>
<line x1="490.60" y1="186.00" x2="490.60" y2="187.00" stroke="#bdbdbd" stroke-width="0.5" />
<text x="490.60" y="189.80" font-size="2.9" text-anchor="middle" font-weight="normal" fill="#444" font-family="Liberation Sans" stroke="#444" stroke-width="0.027" >8</text>
<line x1="512.85" y1="186.00" x2="512.85" y2="187.00" stroke="#bdbdbd" stroke-width="0.5" />
<text x="512.85" y="189.80" font-size="2.9" text-anchor="middle" font-weight="normal" fill="#444" font-family="Liberation Sans" stroke="#444" stroke-width="0.027" >9</text>
<line x1="535.10" y1="186.00" x2="535.10" y2="187.00" stroke="#bdbdbd" stroke-width="0.5" />
<text x="535.10" y="189.80" font-size="2.9" text-anchor="middle" font-weight="normal" fill="#444" font-family="Liberation Sans" stroke="#444" stroke-width="0.027" >10</text>
<text x="423.60" y="193.90" font-size="3.4" text-anchor="middle" font-weight="normal" fill="#333" font-family="Liberation Sans" stroke="#333" stroke-width="0.032" >Years</text>
<text x="0.00" y="0.00" font-size="3.7" text-anchor="middle" font-weight="normal" fill="#000" font-family="Liberation Sans" stroke="#000" stroke-width="0.035" transform="translate(285.80,175.60) rotate(-90)">Strata</text>
<text x="413.80" y="206.90" font-size="10" text-anchor="middle" font-weight="bold" fill="#000" font-family="Liberation Serif" >(b)</text>
<text x="170.10" y="217.80" font-size="8.5" text-anchor="start" font-weight="bold" fill="#000" font-family="Liberation Sans" >CSS in surgically treated non−metastatic chRCC</text>
<text x="170.10" y="227.70" font-size="8.5" text-anchor="start" font-weight="bold" fill="#000" font-family="Liberation Sans" >according to GRANT − Development cohort</text>
<text x="230.90" y="239.10" font-size="6.8" text-anchor="start" font-weight="normal" fill="#222" font-family="Liberation Sans" stroke="#222" stroke-width="0.063" >Strata</text>
<line x1="253.00" y1="236.65" x2="258.00" y2="236.65" stroke="#0073C2" stroke-width="1.2" />
<text x="261.60" y="239.10" font-size="6.8" text-anchor="start" font-weight="normal" fill="#222" font-family="Liberation Sans" stroke="#222" stroke-width="0.063" >Favourable</text>
<line x1="299.00" y1="236.65" x2="304.00" y2="236.65" stroke="#EFC000" stroke-width="1.2" />
<text x="307.20" y="239.10" font-size="6.8" text-anchor="start" font-weight="normal" fill="#222" font-family="Liberation Sans" stroke="#222" stroke-width="0.063" >Unfavourable</text>
<rect x="170.5" y="245.5" width="237.3" height="103.80000000000001" fill="#fff"/>
<line x1="191.82" y1="245.50" x2="191.82" y2="349.30" stroke="#f4f4f4" stroke-width="0.5" />
<line x1="213.47" y1="245.50" x2="213.47" y2="349.30" stroke="#f4f4f4" stroke-width="0.5" />
<line x1="235.12" y1="245.50" x2="235.12" y2="349.30" stroke="#f4f4f4" stroke-width="0.5" />
<line x1="256.77" y1="245.50" x2="256.77" y2="349.30" stroke="#f4f4f4" stroke-width="0.5" />
<line x1="278.43" y1="245.50" x2="278.43" y2="349.30" stroke="#f4f4f4" stroke-width="0.5" />
<line x1="300.07" y1="245.50" x2="300.07" y2="349.30" stroke="#f4f4f4" stroke-width="0.5" />
<line x1="321.73" y1="245.50" x2="321.73" y2="349.30" stroke="#f4f4f4" stroke-width="0.5" />
<line x1="343.38" y1="245.50" x2="343.38" y2="349.30" stroke="#f4f4f4" stroke-width="0.5" />
<line x1="365.02" y1="245.50" x2="365.02" y2="349.30" stroke="#f4f4f4" stroke-width="0.5" />
<line x1="386.67" y1="245.50" x2="386.67" y2="349.30" stroke="#f4f4f4" stroke-width="0.5" />
<line x1="170.50" y1="332.64" x2="407.80" y2="332.64" stroke="#f4f4f4" stroke-width="0.5" />
<line x1="170.50" y1="309.11" x2="407.80" y2="309.11" stroke="#f4f4f4" stroke-width="0.5" />
<line x1="170.50" y1="285.59" x2="407.80" y2="285.59" stroke="#f4f4f4" stroke-width="0.5" />
<line x1="170.50" y1="262.06" x2="407.80" y2="262.06" stroke="#f4f4f4" stroke-width="0.5" />
<line x1="181.00" y1="245.50" x2="181.00" y2="349.30" stroke="#eeeeee" stroke-width="0.6" />
<line x1="202.65" y1="245.50" x2="202.65" y2="349.30" stroke="#eeeeee" stroke-width="0.6" />
<line x1="224.30" y1="245.50" x2="224.30" y2="349.30" stroke="#eeeeee" stroke-width="0.6" />
<line x1="245.95" y1="245.50" x2="245.95" y2="349.30" stroke="#eeeeee" stroke-width="0.6" />
<line x1="267.60" y1="245.50" x2="267.60" y2="349.30" stroke="#eeeeee" stroke-width="0.6" />
<line x1="289.25" y1="245.50" x2="289.25" y2="349.30" stroke="#eeeeee" stroke-width="0.6" />
<line x1="310.90" y1="245.50" x2="310.90" y2="349.30" stroke="#eeeeee" stroke-width="0.6" />
<line x1="332.55" y1="245.50" x2="332.55" y2="349.30" stroke="#eeeeee" stroke-width="0.6" />
<line x1="354.20" y1="245.50" x2="354.20" y2="349.30" stroke="#eeeeee" stroke-width="0.6" />
<line x1="375.85" y1="245.50" x2="375.85" y2="349.30" stroke="#eeeeee" stroke-width="0.6" />
<line x1="397.50" y1="245.50" x2="397.50" y2="349.30" stroke="#eeeeee" stroke-width="0.6" />
<line x1="170.50" y1="344.40" x2="407.80" y2="344.40" stroke="#eeeeee" stroke-width="0.6" />
<line x1="170.50" y1="320.88" x2="407.80" y2="320.88" stroke="#eeeeee" stroke-width="0.6" />
<line x1="170.50" y1="297.35" x2="407.80" y2="297.35" stroke="#eeeeee" stroke-width="0.6" />
<line x1="170.50" y1="273.82" x2="407.80" y2="273.82" stroke="#eeeeee" stroke-width="0.6" />
<line x1="170.50" y1="250.30" x2="407.80" y2="250.30" stroke="#eeeeee" stroke-width="0.6" />
<path d="M181.00,250.30 L187.00,251.20 L195.00,252.50 L205.00,254.00 L215.00,255.20 L225.00,256.20 L235.00,256.60 L250.00,256.90 L270.00,257.80 L285.00,258.50 L295.00,259.20 L310.00,259.50 L312.00,260.30 L335.00,260.50 L337.00,261.00 L350.00,261.50 L354.00,262.40 L368.00,263.30 L372.00,264.10 L398.00,264.30 L400.00,265.10 L407.80,265.20" fill="none" stroke="#EFC000" stroke-width="0.85" stroke-linejoin="miter" />
<path d="M181.00,250.30 L210.00,251.10 L235.00,251.70 L250.00,251.90 L270.00,252.40 L295.00,253.10 L320.00,253.50 L340.00,254.10 L370.00,254.90 L385.00,255.20 L400.00,255.40 L402.00,256.00 L407.80,256.10" fill="none" stroke="#0073C2" stroke-width="0.85" stroke-linejoin="miter" />
<text x="205.30" y="329.00" font-size="6.85" text-anchor="middle" font-weight="normal" fill="#000" font-family="Liberation Sans" stroke="#000" stroke-width="0.064" >p &lt; 0.0001</text>
<text x="310.70" y="328.50" font-size="7.8" text-anchor="middle" font-weight="normal" fill="#000" font-family="Liberation Sans" stroke="#000" stroke-width="0.073" >10−year cancer specific survival:</text>
<text x="310.50" y="338.00" font-size="7.8" text-anchor="middle" font-weight="normal" fill="#000" font-family="Liberation Sans" stroke="#000" stroke-width="0.073" >Favourable: 91%</text>
<text x="310.50" y="347.50" font-size="7.8" text-anchor="middle" font-weight="normal" fill="#000" font-family="Liberation Sans" stroke="#000" stroke-width="0.073" >Unfavourable: 85%</text>
<rect x="170.5" y="245.5" width="237.3" height="103.80000000000001" fill="none" stroke="#bdbdbd" stroke-width="0.9"/>
<line x1="169.10" y1="344.40" x2="170.50" y2="344.40" stroke="#666666" stroke-width="0.6" />
<text x="168.60" y="346.30" font-size="5.75" text-anchor="end" font-weight="normal" fill="#383838" font-family="Liberation Sans" stroke="#383838" stroke-width="0.054" >0.00</text>
<line x1="169.10" y1="320.88" x2="170.50" y2="320.88" stroke="#666666" stroke-width="0.6" />
<text x="168.60" y="322.77" font-size="5.75" text-anchor="end" font-weight="normal" fill="#383838" font-family="Liberation Sans" stroke="#383838" stroke-width="0.054" >0.25</text>
<line x1="169.10" y1="297.35" x2="170.50" y2="297.35" stroke="#666666" stroke-width="0.6" />
<text x="168.60" y="299.25" font-size="5.75" text-anchor="end" font-weight="normal" fill="#383838" font-family="Liberation Sans" stroke="#383838" stroke-width="0.054" >0.50</text>
<line x1="169.10" y1="273.82" x2="170.50" y2="273.82" stroke="#666666" stroke-width="0.6" />
<text x="168.60" y="275.72" font-size="5.75" text-anchor="end" font-weight="normal" fill="#383838" font-family="Liberation Sans" stroke="#383838" stroke-width="0.054" >0.75</text>
<line x1="169.10" y1="250.30" x2="170.50" y2="250.30" stroke="#666666" stroke-width="0.6" />
<text x="168.60" y="252.20" font-size="5.75" text-anchor="end" font-weight="normal" fill="#383838" font-family="Liberation Sans" stroke="#383838" stroke-width="0.054" >1.00</text>
<line x1="181.00" y1="349.30" x2="181.00" y2="350.70" stroke="#666666" stroke-width="0.6" />
<text x="181.00" y="355.00" font-size="5.75" text-anchor="middle" font-weight="normal" fill="#383838" font-family="Liberation Sans" stroke="#383838" stroke-width="0.054" >0</text>
<line x1="202.65" y1="349.30" x2="202.65" y2="350.70" stroke="#666666" stroke-width="0.6" />
<text x="202.65" y="355.00" font-size="5.75" text-anchor="middle" font-weight="normal" fill="#383838" font-family="Liberation Sans" stroke="#383838" stroke-width="0.054" >1</text>
<line x1="224.30" y1="349.30" x2="224.30" y2="350.70" stroke="#666666" stroke-width="0.6" />
<text x="224.30" y="355.00" font-size="5.75" text-anchor="middle" font-weight="normal" fill="#383838" font-family="Liberation Sans" stroke="#383838" stroke-width="0.054" >2</text>
<line x1="245.95" y1="349.30" x2="245.95" y2="350.70" stroke="#666666" stroke-width="0.6" />
<text x="245.95" y="355.00" font-size="5.75" text-anchor="middle" font-weight="normal" fill="#383838" font-family="Liberation Sans" stroke="#383838" stroke-width="0.054" >3</text>
<line x1="267.60" y1="349.30" x2="267.60" y2="350.70" stroke="#666666" stroke-width="0.6" />
<text x="267.60" y="355.00" font-size="5.75" text-anchor="middle" font-weight="normal" fill="#383838" font-family="Liberation Sans" stroke="#383838" stroke-width="0.054" >4</text>
<line x1="289.25" y1="349.30" x2="289.25" y2="350.70" stroke="#666666" stroke-width="0.6" />
<text x="289.25" y="355.00" font-size="5.75" text-anchor="middle" font-weight="normal" fill="#383838" font-family="Liberation Sans" stroke="#383838" stroke-width="0.054" >5</text>
<line x1="310.90" y1="349.30" x2="310.90" y2="350.70" stroke="#666666" stroke-width="0.6" />
<text x="310.90" y="355.00" font-size="5.75" text-anchor="middle" font-weight="normal" fill="#383838" font-family="Liberation Sans" stroke="#383838" stroke-width="0.054" >6</text>
<line x1="332.55" y1="349.30" x2="332.55" y2="350.70" stroke="#666666" stroke-width="0.6" />
<text x="332.55" y="355.00" font-size="5.75" text-anchor="middle" font-weight="normal" fill="#383838" font-family="Liberation Sans" stroke="#383838" stroke-width="0.054" >7</text>
<line x1="354.20" y1="349.30" x2="354.20" y2="350.70" stroke="#666666" stroke-width="0.6" />
<text x="354.20" y="355.00" font-size="5.75" text-anchor="middle" font-weight="normal" fill="#383838" font-family="Liberation Sans" stroke="#383838" stroke-width="0.054" >8</text>
<line x1="375.85" y1="349.30" x2="375.85" y2="350.70" stroke="#666666" stroke-width="0.6" />
<text x="375.85" y="355.00" font-size="5.75" text-anchor="middle" font-weight="normal" fill="#383838" font-family="Liberation Sans" stroke="#383838" stroke-width="0.054" >9</text>
<line x1="397.50" y1="349.30" x2="397.50" y2="350.70" stroke="#666666" stroke-width="0.6" />
<text x="397.50" y="355.00" font-size="5.75" text-anchor="middle" font-weight="normal" fill="#383838" font-family="Liberation Sans" stroke="#383838" stroke-width="0.054" >10</text>
<text x="289.15" y="362.60" font-size="7.3" text-anchor="middle" font-weight="normal" fill="#000" font-family="Liberation Sans" stroke="#000" stroke-width="0.068" >Years</text>
<text x="0.00" y="0.00" font-size="7.5" text-anchor="middle" font-weight="normal" fill="#000" font-family="Liberation Sans" stroke="#000" stroke-width="0.070" transform="translate(148.40,298.10) rotate(-90)">Survival probability</text>
<text x="170.80" y="371.30" font-size="4.45" text-anchor="start" font-weight="normal" fill="#000" font-family="Liberation Sans" stroke="#000" stroke-width="0.042" >Number at risk</text>
<rect x="170.5" y="374.2" width="237.3" height="20.400000000000034" fill="#fff"/>
<line x1="181.00" y1="374.20" x2="181.00" y2="394.60" stroke="#eeeeee" stroke-width="0.5" />
<line x1="191.82" y1="374.20" x2="191.82" y2="394.60" stroke="#f4f4f4" stroke-width="0.5" />
<line x1="202.65" y1="374.20" x2="202.65" y2="394.60" stroke="#eeeeee" stroke-width="0.5" />
<line x1="213.47" y1="374.20" x2="213.47" y2="394.60" stroke="#f4f4f4" stroke-width="0.5" />
<line x1="224.30" y1="374.20" x2="224.30" y2="394.60" stroke="#eeeeee" stroke-width="0.5" />
<line x1="235.12" y1="374.20" x2="235.12" y2="394.60" stroke="#f4f4f4" stroke-width="0.5" />
<line x1="245.95" y1="374.20" x2="245.95" y2="394.60" stroke="#eeeeee" stroke-width="0.5" />
<line x1="256.77" y1="374.20" x2="256.77" y2="394.60" stroke="#f4f4f4" stroke-width="0.5" />
<line x1="267.60" y1="374.20" x2="267.60" y2="394.60" stroke="#eeeeee" stroke-width="0.5" />
<line x1="278.43" y1="374.20" x2="278.43" y2="394.60" stroke="#f4f4f4" stroke-width="0.5" />
<line x1="289.25" y1="374.20" x2="289.25" y2="394.60" stroke="#eeeeee" stroke-width="0.5" />
<line x1="300.07" y1="374.20" x2="300.07" y2="394.60" stroke="#f4f4f4" stroke-width="0.5" />
<line x1="310.90" y1="374.20" x2="310.90" y2="394.60" stroke="#eeeeee" stroke-width="0.5" />
<line x1="321.73" y1="374.20" x2="321.73" y2="394.60" stroke="#f4f4f4" stroke-width="0.5" />
<line x1="332.55" y1="374.20" x2="332.55" y2="394.60" stroke="#eeeeee" stroke-width="0.5" />
<line x1="343.38" y1="374.20" x2="343.38" y2="394.60" stroke="#f4f4f4" stroke-width="0.5" />
<line x1="354.20" y1="374.20" x2="354.20" y2="394.60" stroke="#eeeeee" stroke-width="0.5" />
<line x1="365.02" y1="374.20" x2="365.02" y2="394.60" stroke="#f4f4f4" stroke-width="0.5" />
<line x1="375.85" y1="374.20" x2="375.85" y2="394.60" stroke="#eeeeee" stroke-width="0.5" />
<line x1="386.67" y1="374.20" x2="386.67" y2="394.60" stroke="#f4f4f4" stroke-width="0.5" />
<line x1="397.50" y1="374.20" x2="397.50" y2="394.60" stroke="#eeeeee" stroke-width="0.5" />
<line x1="170.50" y1="379.80" x2="407.80" y2="379.80" stroke="#eeeeee" stroke-width="0.5" />
<line x1="170.50" y1="389.00" x2="407.80" y2="389.00" stroke="#eeeeee" stroke-width="0.5" />
<text x="181.00" y="381.75" font-size="5.7" text-anchor="middle" font-weight="normal" fill="#000" font-family="Liberation Sans" stroke="#000" stroke-width="0.053" >2251</text>
<text x="202.65" y="381.75" font-size="5.7" text-anchor="middle" font-weight="normal" fill="#000" font-family="Liberation Sans" stroke="#000" stroke-width="0.053" >2096</text>
<text x="224.30" y="381.75" font-size="5.7" text-anchor="middle" font-weight="normal" fill="#000" font-family="Liberation Sans" stroke="#000" stroke-width="0.053" >1969</text>
<text x="245.95" y="381.75" font-size="5.7" text-anchor="middle" font-weight="normal" fill="#000" font-family="Liberation Sans" stroke="#000" stroke-width="0.053" >1826</text>
<text x="267.60" y="381.75" font-size="5.7" text-anchor="middle" font-weight="normal" fill="#000" font-family="Liberation Sans" stroke="#000" stroke-width="0.053" >1650</text>
<text x="289.25" y="381.75" font-size="5.7" text-anchor="middle" font-weight="normal" fill="#000" font-family="Liberation Sans" stroke="#000" stroke-width="0.053" >1478</text>
<text x="310.90" y="381.75" font-size="5.7" text-anchor="middle" font-weight="normal" fill="#000" font-family="Liberation Sans" stroke="#000" stroke-width="0.053" >1328</text>
<text x="332.55" y="381.75" font-size="5.7" text-anchor="middle" font-weight="normal" fill="#000" font-family="Liberation Sans" stroke="#000" stroke-width="0.053" >1187</text>
<text x="354.20" y="381.75" font-size="5.7" text-anchor="middle" font-weight="normal" fill="#000" font-family="Liberation Sans" stroke="#000" stroke-width="0.053" >1007</text>
<text x="375.85" y="381.75" font-size="5.7" text-anchor="middle" font-weight="normal" fill="#000" font-family="Liberation Sans" stroke="#000" stroke-width="0.053" >859</text>
<text x="397.50" y="381.75" font-size="5.7" text-anchor="middle" font-weight="normal" fill="#000" font-family="Liberation Sans" stroke="#000" stroke-width="0.053" >720</text>
<line x1="169.50" y1="379.80" x2="170.50" y2="379.80" stroke="#bdbdbd" stroke-width="0.5" />
<text x="168.90" y="380.90" font-size="3.0" text-anchor="end" font-weight="normal" fill="#0073C2" font-family="Liberation Sans" stroke="#0073C2" stroke-width="0.028" >Favourable</text>
<text x="181.00" y="390.95" font-size="5.7" text-anchor="middle" font-weight="normal" fill="#000" font-family="Liberation Sans" stroke="#000" stroke-width="0.053" >510</text>
<text x="202.65" y="390.95" font-size="5.7" text-anchor="middle" font-weight="normal" fill="#000" font-family="Liberation Sans" stroke="#000" stroke-width="0.053" >469</text>
<text x="224.30" y="390.95" font-size="5.7" text-anchor="middle" font-weight="normal" fill="#000" font-family="Liberation Sans" stroke="#000" stroke-width="0.053" >419</text>
<text x="245.95" y="390.95" font-size="5.7" text-anchor="middle" font-weight="normal" fill="#000" font-family="Liberation Sans" stroke="#000" stroke-width="0.053" >383</text>
<text x="267.60" y="390.95" font-size="5.7" text-anchor="middle" font-weight="normal" fill="#000" font-family="Liberation Sans" stroke="#000" stroke-width="0.053" >347</text>
<text x="289.25" y="390.95" font-size="5.7" text-anchor="middle" font-weight="normal" fill="#000" font-family="Liberation Sans" stroke="#000" stroke-width="0.053" >298</text>
<text x="310.90" y="390.95" font-size="5.7" text-anchor="middle" font-weight="normal" fill="#000" font-family="Liberation Sans" stroke="#000" stroke-width="0.053" >255</text>
<text x="332.55" y="390.95" font-size="5.7" text-anchor="middle" font-weight="normal" fill="#000" font-family="Liberation Sans" stroke="#000" stroke-width="0.053" >217</text>
<text x="354.20" y="390.95" font-size="5.7" text-anchor="middle" font-weight="normal" fill="#000" font-family="Liberation Sans" stroke="#000" stroke-width="0.053" >183</text>
<text x="375.85" y="390.95" font-size="5.7" text-anchor="middle" font-weight="normal" fill="#000" font-family="Liberation Sans" stroke="#000" stroke-width="0.053" >143</text>
<text x="397.50" y="390.95" font-size="5.7" text-anchor="middle" font-weight="normal" fill="#000" font-family="Liberation Sans" stroke="#000" stroke-width="0.053" >108</text>
<line x1="169.50" y1="389.00" x2="170.50" y2="389.00" stroke="#bdbdbd" stroke-width="0.5" />
<text x="168.90" y="390.10" font-size="3.0" text-anchor="end" font-weight="normal" fill="#EFC000" font-family="Liberation Sans" stroke="#EFC000" stroke-width="0.028" >Unfavourable</text>
<rect x="170.5" y="374.2" width="237.3" height="20.400000000000034" fill="none" stroke="#bdbdbd" stroke-width="0.9"/>
<line x1="181.00" y1="394.60" x2="181.00" y2="395.60" stroke="#bdbdbd" stroke-width="0.5" />
<text x="181.00" y="398.40" font-size="2.9" text-anchor="middle" font-weight="normal" fill="#444" font-family="Liberation Sans" stroke="#444" stroke-width="0.027" >0</text>
<line x1="202.65" y1="394.60" x2="202.65" y2="395.60" stroke="#bdbdbd" stroke-width="0.5" />
<text x="202.65" y="398.40" font-size="2.9" text-anchor="middle" font-weight="normal" fill="#444" font-family="Liberation Sans" stroke="#444" stroke-width="0.027" >1</text>
<line x1="224.30" y1="394.60" x2="224.30" y2="395.60" stroke="#bdbdbd" stroke-width="0.5" />
<text x="224.30" y="398.40" font-size="2.9" text-anchor="middle" font-weight="normal" fill="#444" font-family="Liberation Sans" stroke="#444" stroke-width="0.027" >2</text>
<line x1="245.95" y1="394.60" x2="245.95" y2="395.60" stroke="#bdbdbd" stroke-width="0.5" />
<text x="245.95" y="398.40" font-size="2.9" text-anchor="middle" font-weight="normal" fill="#444" font-family="Liberation Sans" stroke="#444" stroke-width="0.027" >3</text>
<line x1="267.60" y1="394.60" x2="267.60" y2="395.60" stroke="#bdbdbd" stroke-width="0.5" />
<text x="267.60" y="398.40" font-size="2.9" text-anchor="middle" font-weight="normal" fill="#444" font-family="Liberation Sans" stroke="#444" stroke-width="0.027" >4</text>
<line x1="289.25" y1="394.60" x2="289.25" y2="395.60" stroke="#bdbdbd" stroke-width="0.5" />
<text x="289.25" y="398.40" font-size="2.9" text-anchor="middle" font-weight="normal" fill="#444" font-family="Liberation Sans" stroke="#444" stroke-width="0.027" >5</text>
<line x1="310.90" y1="394.60" x2="310.90" y2="395.60" stroke="#bdbdbd" stroke-width="0.5" />
<text x="310.90" y="398.40" font-size="2.9" text-anchor="middle" font-weight="normal" fill="#444" font-family="Liberation Sans" stroke="#444" stroke-width="0.027" >6</text>
<line x1="332.55" y1="394.60" x2="332.55" y2="395.60" stroke="#bdbdbd" stroke-width="0.5" />
<text x="332.55" y="398.40" font-size="2.9" text-anchor="middle" font-weight="normal" fill="#444" font-family="Liberation Sans" stroke="#444" stroke-width="0.027" >7</text>
<line x1="354.20" y1="394.60" x2="354.20" y2="395.60" stroke="#bdbdbd" stroke-width="0.5" />
<text x="354.20" y="398.40" font-size="2.9" text-anchor="middle" font-weight="normal" fill="#444" font-family="Liberation Sans" stroke="#444" stroke-width="0.027" >8</text>
<line x1="375.85" y1="394.60" x2="375.85" y2="395.60" stroke="#bdbdbd" stroke-width="0.5" />
<text x="375.85" y="398.40" font-size="2.9" text-anchor="middle" font-weight="normal" fill="#444" font-family="Liberation Sans" stroke="#444" stroke-width="0.027" >9</text>
<line x1="397.50" y1="394.60" x2="397.50" y2="395.60" stroke="#bdbdbd" stroke-width="0.5" />
<text x="397.50" y="398.40" font-size="2.9" text-anchor="middle" font-weight="normal" fill="#444" font-family="Liberation Sans" stroke="#444" stroke-width="0.027" >10</text>
<text x="289.15" y="402.50" font-size="3.4" text-anchor="middle" font-weight="normal" fill="#333" font-family="Liberation Sans" stroke="#333" stroke-width="0.032" >Years</text>
<text x="0.00" y="0.00" font-size="3.7" text-anchor="middle" font-weight="normal" fill="#000" font-family="Liberation Sans" stroke="#000" stroke-width="0.035" transform="translate(147.30,384.40) rotate(-90)">Strata</text>
<text x="275.30" y="416.20" font-size="10" text-anchor="middle" font-weight="bold" fill="#000" font-family="Liberation Serif" >(c)</text>
</g>
</svg>
</div></body></html>
